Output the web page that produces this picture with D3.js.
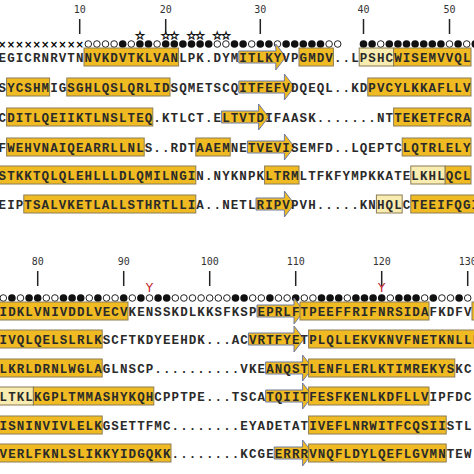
<!DOCTYPE html><html><head><meta charset="utf-8">
<script src="https://cdn.jsdelivr.net/npm/d3@7"></script>
<style>body{margin:0;background:#fff}</style></head><body><svg id="c" width="474" height="474"></svg>
<script>
const topSeqs=["EGICRNRVTNNVKDVTKLVANLPK.DYMITLKYVPGMDV..LPSHCWISEMVVQL",
"SYCSHMIGSGHLQSLQRLIDSQMETSCQITFEFVDQEQL..KDPVCYLKKAFLLV",
"CDITLQEIIKTLNSLTEQ.KTLCT.ELTVTDIFAASK.......NTTEKETFCRA",
"FWEHVNAIQEARRLLNLS..RDTAAEMNETVEVISEMFD..LQEPTCLQTRLELY",
"STKKTQLQLEHLLLDLQMILNGIN.NYKNPKLTRMLTFKFYMPKKATELKHLQCL",
"EIPTSALVKETLALLSTHRTLLIA..NETLRIPVPVH.....KNHQLCTEEIFQGI"];
const botSeqs=["IDKLVNIVDDLVECVKENSSKDLKKSFKSPEPRLFTPEEFFRIFNRSIDAFKDFV",
"IVQLQELSLRLKSCFTKDYEEHDK...ACVRTFYETPLQLLEKVKNVFNETKNLLL",
"LKRLDRNLWGLAGLNSCP..........VKEANQSTLENFLERLKTIMREKYSKC",
"LTKLKGPLTMMASHYKQHCPPTPE...TSCATQIITFESFKENLKDFLLVIPFDC",
"ISNINVIVLELKGSETTFMC........EYADETATIVEFLNRWITFCQSIISTL",
"VERLFKNLSLIKKYIDGQKK........KCGEERRRVNQFLDYLQEFLGVMNTEW"];
const topBoxes=[[[10,21,"h"],[28,33,"s"],[35,39,"h"],[42,46,"p"],[46,55,"h"]],
[[1,6,"h"],[8,20,"h"],[28,34,"s"],[43,55,"h"]],
[[1,18,"h"],[26,31,"s"],[46,55,"h"]],
[[1,17,"h"],[23,27,"h"],[29,34,"s"],[47,55,"h"]],
[[0,23,"h"],[31,35,"h"],[48,52,"p"],[52,55,"h"]],
[[3,23,"h"],[30,34,"s"],[44,47,"p"],[48,56,"h"]]];
const botBoxes=[[[0,15,"h"],[30,35,"s"],[35,50,"h"],[55,56,"h"]],
[[0,12,"h"],[29,35,"s"],[36,56,"h"]],
[[0,12,"h"],[31,36,"s"],[36,53,"h"]],
[[0,4,"p"],[4,18,"h"],[31,36,"s"],[36,50,"h"]],
[[0,12,"h"],[36,52,"h"]],
[[0,20,"h"],[32,36,"s"],[36,52,"h"]]];
const topCons="xxxxxxxxxxoooo.o..o......oo..o..o.....oo  ..o.......o.o..";
const botCons="o.o..oo...o.oo.o.o..ooooooo..oo.oo.oo...o....o...o.oo.o";
const topTicks=[[10,9],[20,19],[30,30],[40,42],[50,52]];
const botTicks=[[80,4],[90,14],[100,24],[110,34],[120,44],[130,54]];
const topStars=[16,19,20,22,23,25,26];
const botY=[17,44];
const svg=d3.select("#c");
const gold="#f0bb22",edge="#8c7c55";
function block(seqs,boxes,cons,ticks,x0,rowY,consY,tickY){
  const x=d3.scaleLinear().domain([0,56]).range([x0,x0+56*8.6]);
  const g=svg.append("g");
  ticks.forEach(([n,c])=>{
    g.append("text").attr("x",x(c+0.5)).attr("y",tickY).attr("text-anchor","middle").attr("font-family","DejaVu Sans Mono").attr("font-size",10).attr("fill","#333").text(n);
    g.append("line").attr("x1",x(c+0.5)).attr("x2",x(c+0.5)).attr("y1",tickY+6).attr("y2",tickY+21).attr("stroke","#222").attr("stroke-width",1.5);
  });
  [...cons].forEach((s,i)=>{
    const cx=x(i+0.5);
    if(s==="x")g.append("text").attr("x",cx).attr("y",consY+4).attr("text-anchor","middle").attr("font-family","DejaVu Sans").attr("font-weight","bold").attr("font-size",10).text("×");
    else if(s==="o")g.append("circle").attr("cx",cx).attr("cy",consY).attr("r",3.3).attr("fill","#fff").attr("stroke","#222");
    else if(s===".")g.append("circle").attr("cx",cx).attr("cy",consY).attr("r",3.8).attr("fill","#111");
  });
  seqs.forEach((s,r)=>{
    const y=rowY[r];
    boxes[r].forEach(([a,b,t])=>{
      if(t==="s"){
        const xa=x(a),xb=x(b)-6,xe=x(b)+4;
        g.append("path").attr("d",`M${xa},${y-6}L${xb},${y-6}L${xb},${y-13}L${xe},${y}L${xb},${y+13}L${xb},${y+6}L${xa},${y+6}Z`).attr("fill",gold).attr("stroke","#6f7aa0").attr("stroke-width",1);
      }else g.append("rect").attr("x",x(a)).attr("y",y-9).attr("width",x(b)-x(a)).attr("height",18).attr("fill",t==="p"?"#f8ecb0":gold).attr("stroke",edge).attr("stroke-width",1);
    });
    [...s].forEach((ch,i)=>g.append("text").attr("x",x(i+0.5)).attr("y",y+4.5).attr("text-anchor","middle").attr("font-family","Liberation Mono").attr("font-weight","bold").attr("font-size",12.5).attr("fill","#2a2a2a").text(ch));
  });
  return x;
}
const xt=block(topSeqs,topBoxes,topCons,topTicks,-2,[57,87,117,147,175,204],44,13);
topStars.forEach(c=>svg.append("text").attr("x",xt(c+0.5)).attr("y",39).attr("text-anchor","middle").attr("font-family","DejaVu Sans").attr("font-size",10).attr("fill","#fff").attr("stroke","#111").attr("stroke-width",1).text("★"));
const xb=block(botSeqs,botBoxes,botCons,botTicks,-1,[311,339,368,396,425,453],298,265);
botY.forEach(c=>svg.append("text").attr("x",xb(c+0.5)).attr("y",292).attr("text-anchor","middle").attr("font-family","DejaVu Sans").attr("font-size",12).attr("fill","#c0202a").text("Y"));
</script></body></html>
